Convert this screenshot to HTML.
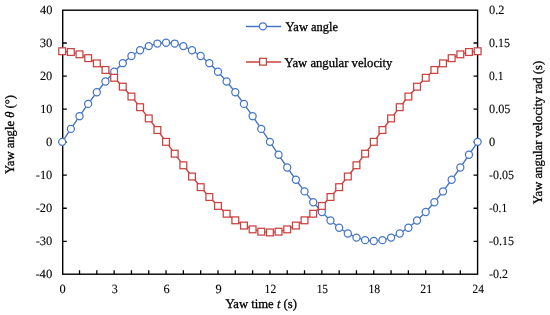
<!DOCTYPE html><html><head><meta charset="utf-8"><style>html,body{margin:0;padding:0;background:#fff;}body{width:550px;height:315px;overflow:hidden;}svg{display:block;}text{text-rendering:geometricPrecision;font-family:"Liberation Serif","Times New Roman",serif;fill:#000;stroke:#000;stroke-width:0.10px;}text.tt{stroke-width:0.30px;}</style></head><body>
<svg width="550" height="315" viewBox="0 0 550 315">
<rect x="0" y="0" width="550" height="315" fill="#fff"/>
<path d="M62.70 43.00H66.80 M477.60 43.00H473.50 M62.70 76.05H66.80 M477.60 76.05H473.50 M62.70 109.10H66.80 M477.60 109.10H473.50 M62.70 142.15H66.80 M477.60 142.15H473.50 M62.70 175.20H66.80 M477.60 175.20H473.50 M62.70 208.25H66.80 M477.60 208.25H473.50 M62.70 241.30H66.80 M477.60 241.30H473.50 M79.51 274.20V270.20 M96.82 274.20V270.20 M114.13 274.20V270.20 M131.44 274.20V270.20 M148.75 274.20V270.20 M166.06 274.20V270.20 M183.37 274.20V270.20 M200.68 274.20V270.20 M217.99 274.20V270.20 M235.30 274.20V270.20 M252.61 274.20V270.20 M269.92 274.20V270.20 M287.23 274.20V270.20 M304.54 274.20V270.20 M321.85 274.20V270.20 M339.16 274.20V270.20 M356.47 274.20V270.20 M373.78 274.20V270.20 M391.09 274.20V270.20 M408.40 274.20V270.20 M425.71 274.20V270.20 M443.02 274.20V270.20 M460.33 274.20V270.20" stroke="#000" stroke-width="1.3" fill="none"/>
<rect x="62.7" y="10.2" width="414.90" height="264.00" fill="none" stroke="#000" stroke-width="1.4"/>
<polyline points="62.20,141.85 70.86,128.91 79.51,116.19 88.16,103.91 96.82,92.28 105.47,81.49 114.13,71.74 122.78,63.19 131.44,55.98 140.09,50.25 148.75,46.08 157.41,43.55 166.06,42.70 174.71,43.55 183.37,46.08 192.02,50.25 200.68,55.98 209.33,63.19 217.99,71.74 226.64,81.49 235.30,92.28 243.95,103.91 252.61,116.19 261.26,128.91 269.92,141.85 278.57,154.79 287.23,167.51 295.88,179.79 304.54,191.42 313.19,202.21 321.85,211.96 330.50,220.51 339.16,227.72 347.81,233.45 356.47,237.62 365.12,240.15 373.78,241.00 382.43,240.15 391.09,237.62 399.74,233.45 408.40,227.72 417.05,220.51 425.71,211.96 434.36,202.21 443.02,191.43 451.67,179.79 460.33,167.51 468.98,154.79 477.64,141.85" fill="none" stroke="#4676C5" stroke-width="1.4"/>
<polyline points="62.20,51.24 70.86,52.02 79.51,54.33 88.16,58.14 96.82,63.38 105.47,69.97 114.13,77.78 122.78,86.69 131.44,96.55 140.09,107.18 148.75,118.40 157.41,130.02 166.06,141.85 174.71,153.68 183.37,165.30 192.02,176.52 200.68,187.15 209.33,197.01 217.99,205.92 226.64,213.73 235.30,220.32 243.95,225.56 252.61,229.37 261.26,231.68 269.92,232.46 278.57,231.68 287.23,229.37 295.88,225.56 304.54,220.32 313.19,213.73 321.85,205.92 330.50,197.01 339.16,187.15 347.81,176.52 356.47,165.30 365.12,153.68 373.78,141.85 382.43,130.02 391.09,118.40 399.74,107.18 408.40,96.55 417.05,86.69 425.71,77.78 434.36,69.97 443.02,63.38 451.67,58.14 460.33,54.33 468.98,52.02 477.64,51.24" fill="none" stroke="#C8423F" stroke-width="1.4"/>
<g fill="#fff" stroke="#4676C5" stroke-width="1.25">
<circle cx="62.20" cy="141.85" r="3.55"/>
<circle cx="70.86" cy="128.91" r="3.55"/>
<circle cx="79.51" cy="116.19" r="3.55"/>
<circle cx="88.16" cy="103.91" r="3.55"/>
<circle cx="96.82" cy="92.28" r="3.55"/>
<circle cx="105.47" cy="81.49" r="3.55"/>
<circle cx="114.13" cy="71.74" r="3.55"/>
<circle cx="122.78" cy="63.19" r="3.55"/>
<circle cx="131.44" cy="55.98" r="3.55"/>
<circle cx="140.09" cy="50.25" r="3.55"/>
<circle cx="148.75" cy="46.08" r="3.55"/>
<circle cx="157.41" cy="43.55" r="3.55"/>
<circle cx="166.06" cy="42.70" r="3.55"/>
<circle cx="174.71" cy="43.55" r="3.55"/>
<circle cx="183.37" cy="46.08" r="3.55"/>
<circle cx="192.02" cy="50.25" r="3.55"/>
<circle cx="200.68" cy="55.98" r="3.55"/>
<circle cx="209.33" cy="63.19" r="3.55"/>
<circle cx="217.99" cy="71.74" r="3.55"/>
<circle cx="226.64" cy="81.49" r="3.55"/>
<circle cx="235.30" cy="92.28" r="3.55"/>
<circle cx="243.95" cy="103.91" r="3.55"/>
<circle cx="252.61" cy="116.19" r="3.55"/>
<circle cx="261.26" cy="128.91" r="3.55"/>
<circle cx="269.92" cy="141.85" r="3.55"/>
<circle cx="278.57" cy="154.79" r="3.55"/>
<circle cx="287.23" cy="167.51" r="3.55"/>
<circle cx="295.88" cy="179.79" r="3.55"/>
<circle cx="304.54" cy="191.42" r="3.55"/>
<circle cx="313.19" cy="202.21" r="3.55"/>
<circle cx="321.85" cy="211.96" r="3.55"/>
<circle cx="330.50" cy="220.51" r="3.55"/>
<circle cx="339.16" cy="227.72" r="3.55"/>
<circle cx="347.81" cy="233.45" r="3.55"/>
<circle cx="356.47" cy="237.62" r="3.55"/>
<circle cx="365.12" cy="240.15" r="3.55"/>
<circle cx="373.78" cy="241.00" r="3.55"/>
<circle cx="382.43" cy="240.15" r="3.55"/>
<circle cx="391.09" cy="237.62" r="3.55"/>
<circle cx="399.74" cy="233.45" r="3.55"/>
<circle cx="408.40" cy="227.72" r="3.55"/>
<circle cx="417.05" cy="220.51" r="3.55"/>
<circle cx="425.71" cy="211.96" r="3.55"/>
<circle cx="434.36" cy="202.21" r="3.55"/>
<circle cx="443.02" cy="191.43" r="3.55"/>
<circle cx="451.67" cy="179.79" r="3.55"/>
<circle cx="460.33" cy="167.51" r="3.55"/>
<circle cx="468.98" cy="154.79" r="3.55"/>
<circle cx="477.64" cy="141.85" r="3.55"/>
</g>
<g fill="#fff" stroke="#C8423F" stroke-width="1.25">
<rect x="58.80" y="47.84" width="6.8" height="6.8"/>
<rect x="67.45" y="48.62" width="6.8" height="6.8"/>
<rect x="76.11" y="50.93" width="6.8" height="6.8"/>
<rect x="84.76" y="54.74" width="6.8" height="6.8"/>
<rect x="93.42" y="59.98" width="6.8" height="6.8"/>
<rect x="102.07" y="66.57" width="6.8" height="6.8"/>
<rect x="110.73" y="74.38" width="6.8" height="6.8"/>
<rect x="119.38" y="83.29" width="6.8" height="6.8"/>
<rect x="128.04" y="93.15" width="6.8" height="6.8"/>
<rect x="136.69" y="103.78" width="6.8" height="6.8"/>
<rect x="145.35" y="115.00" width="6.8" height="6.8"/>
<rect x="154.00" y="126.62" width="6.8" height="6.8"/>
<rect x="162.66" y="138.45" width="6.8" height="6.8"/>
<rect x="171.31" y="150.28" width="6.8" height="6.8"/>
<rect x="179.97" y="161.90" width="6.8" height="6.8"/>
<rect x="188.62" y="173.12" width="6.8" height="6.8"/>
<rect x="197.28" y="183.75" width="6.8" height="6.8"/>
<rect x="205.93" y="193.61" width="6.8" height="6.8"/>
<rect x="214.59" y="202.52" width="6.8" height="6.8"/>
<rect x="223.24" y="210.33" width="6.8" height="6.8"/>
<rect x="231.90" y="216.92" width="6.8" height="6.8"/>
<rect x="240.55" y="222.16" width="6.8" height="6.8"/>
<rect x="249.21" y="225.97" width="6.8" height="6.8"/>
<rect x="257.87" y="228.28" width="6.8" height="6.8"/>
<rect x="266.52" y="229.06" width="6.8" height="6.8"/>
<rect x="275.18" y="228.28" width="6.8" height="6.8"/>
<rect x="283.83" y="225.97" width="6.8" height="6.8"/>
<rect x="292.49" y="222.16" width="6.8" height="6.8"/>
<rect x="301.14" y="216.92" width="6.8" height="6.8"/>
<rect x="309.80" y="210.33" width="6.8" height="6.8"/>
<rect x="318.45" y="202.52" width="6.8" height="6.8"/>
<rect x="327.11" y="193.61" width="6.8" height="6.8"/>
<rect x="335.76" y="183.75" width="6.8" height="6.8"/>
<rect x="344.41" y="173.12" width="6.8" height="6.8"/>
<rect x="353.07" y="161.90" width="6.8" height="6.8"/>
<rect x="361.72" y="150.28" width="6.8" height="6.8"/>
<rect x="370.38" y="138.45" width="6.8" height="6.8"/>
<rect x="379.03" y="126.62" width="6.8" height="6.8"/>
<rect x="387.69" y="115.00" width="6.8" height="6.8"/>
<rect x="396.34" y="103.78" width="6.8" height="6.8"/>
<rect x="405.00" y="93.15" width="6.8" height="6.8"/>
<rect x="413.65" y="83.29" width="6.8" height="6.8"/>
<rect x="422.31" y="74.38" width="6.8" height="6.8"/>
<rect x="430.96" y="66.57" width="6.8" height="6.8"/>
<rect x="439.62" y="59.98" width="6.8" height="6.8"/>
<rect x="448.27" y="54.74" width="6.8" height="6.8"/>
<rect x="456.93" y="50.93" width="6.8" height="6.8"/>
<rect x="465.58" y="48.62" width="6.8" height="6.8"/>
<rect x="474.24" y="47.84" width="6.8" height="6.8"/>
</g>
<text x="52.3" y="14.05" font-size="12.6" text-anchor="end" textLength="12.33" lengthAdjust="spacingAndGlyphs">40</text>
<text x="52.3" y="47.10" font-size="12.6" text-anchor="end" textLength="12.60" lengthAdjust="spacingAndGlyphs">30</text>
<text x="52.3" y="80.15" font-size="12.6" text-anchor="end" textLength="12.40" lengthAdjust="spacingAndGlyphs">20</text>
<text x="52.3" y="113.20" font-size="12.6" text-anchor="end" textLength="12.06" lengthAdjust="spacingAndGlyphs">10</text>
<text x="52.3" y="146.25" font-size="12.6" text-anchor="end" textLength="6.33" lengthAdjust="spacingAndGlyphs">0</text>
<text x="52.3" y="179.30" font-size="12.6" text-anchor="end" textLength="16.53" lengthAdjust="spacingAndGlyphs">-10</text>
<text x="52.3" y="212.35" font-size="12.6" text-anchor="end" textLength="16.61" lengthAdjust="spacingAndGlyphs">-20</text>
<text x="52.3" y="245.40" font-size="12.6" text-anchor="end" textLength="16.61" lengthAdjust="spacingAndGlyphs">-30</text>
<text x="52.3" y="278.45" font-size="12.6" text-anchor="end" textLength="16.88" lengthAdjust="spacingAndGlyphs">-40</text>
<text x="489.0" y="14.05" font-size="12.6" textLength="15.50" lengthAdjust="spacingAndGlyphs">0.2</text>
<text x="489.0" y="47.10" font-size="12.6" textLength="20.99" lengthAdjust="spacingAndGlyphs">0.15</text>
<text x="489.0" y="80.15" font-size="12.6" textLength="14.50" lengthAdjust="spacingAndGlyphs">0.1</text>
<text x="489.0" y="113.20" font-size="12.6" textLength="21.46" lengthAdjust="spacingAndGlyphs">0.05</text>
<text x="489.0" y="146.25" font-size="12.6" textLength="6.20" lengthAdjust="spacingAndGlyphs">0</text>
<text x="489.0" y="179.30" font-size="12.6" textLength="24.99" lengthAdjust="spacingAndGlyphs">-0.05</text>
<text x="489.0" y="212.35" font-size="12.6" textLength="18.15" lengthAdjust="spacingAndGlyphs">-0.1</text>
<text x="489.0" y="245.40" font-size="12.6" textLength="24.99" lengthAdjust="spacingAndGlyphs">-0.15</text>
<text x="489.0" y="278.45" font-size="12.6" textLength="19.10" lengthAdjust="spacingAndGlyphs">-0.2</text>
<text x="62.70" y="293.3" font-size="12.6" text-anchor="middle" textLength="6.20" lengthAdjust="spacingAndGlyphs">0</text>
<text x="114.63" y="293.3" font-size="12.6" text-anchor="middle" textLength="6.00" lengthAdjust="spacingAndGlyphs">3</text>
<text x="166.56" y="293.3" font-size="12.6" text-anchor="middle" textLength="6.20" lengthAdjust="spacingAndGlyphs">6</text>
<text x="218.49" y="293.3" font-size="12.6" text-anchor="middle" textLength="6.20" lengthAdjust="spacingAndGlyphs">9</text>
<text x="270.42" y="293.3" font-size="12.6" text-anchor="middle" textLength="11.60" lengthAdjust="spacingAndGlyphs">12</text>
<text x="322.35" y="293.3" font-size="12.6" text-anchor="middle" textLength="11.40" lengthAdjust="spacingAndGlyphs">15</text>
<text x="374.28" y="293.3" font-size="12.6" text-anchor="middle" textLength="11.80" lengthAdjust="spacingAndGlyphs">18</text>
<text x="426.21" y="293.3" font-size="12.6" text-anchor="middle" textLength="11.80" lengthAdjust="spacingAndGlyphs">21</text>
<text x="478.14" y="293.3" font-size="12.6" text-anchor="middle" textLength="11.40" lengthAdjust="spacingAndGlyphs">24</text>
<text class="tt" x="261.2" y="308.4" font-size="13.0" text-anchor="middle" textLength="71.5" lengthAdjust="spacingAndGlyphs">Yaw time <tspan font-style="italic">t</tspan> (s)</text>
<text class="tt" transform="translate(13.8,134.55) rotate(-90)" font-size="13.0" text-anchor="middle" textLength="79" lengthAdjust="spacingAndGlyphs">Yaw angle <tspan font-style="italic">θ</tspan> (°)</text>
<text class="tt" transform="translate(541.5,132.55) rotate(-90)" font-size="13.0" text-anchor="middle" textLength="143.5" lengthAdjust="spacingAndGlyphs">Yaw angular velocity rad (s)</text>
<path d="M246 26.55H281.2" stroke="#4676C5" stroke-width="1.4"/>
<circle cx="262.9" cy="26.3" r="3.55" fill="#fff" stroke="#4676C5" stroke-width="1.25"/>
<text class="tt" x="285.6" y="30.9" font-size="13.0" textLength="52.4" lengthAdjust="spacingAndGlyphs">Yaw angle</text>
<path d="M246 62.0H281.2" stroke="#C8423F" stroke-width="1.4"/>
<rect x="259.60" y="58.30" width="6.8" height="6.8" fill="#fff" stroke="#C8423F" stroke-width="1.25"/>
<text class="tt" x="284.6" y="66.9" font-size="13.0" textLength="107.8" lengthAdjust="spacingAndGlyphs">Yaw angular velocity</text>
</svg></body></html>
